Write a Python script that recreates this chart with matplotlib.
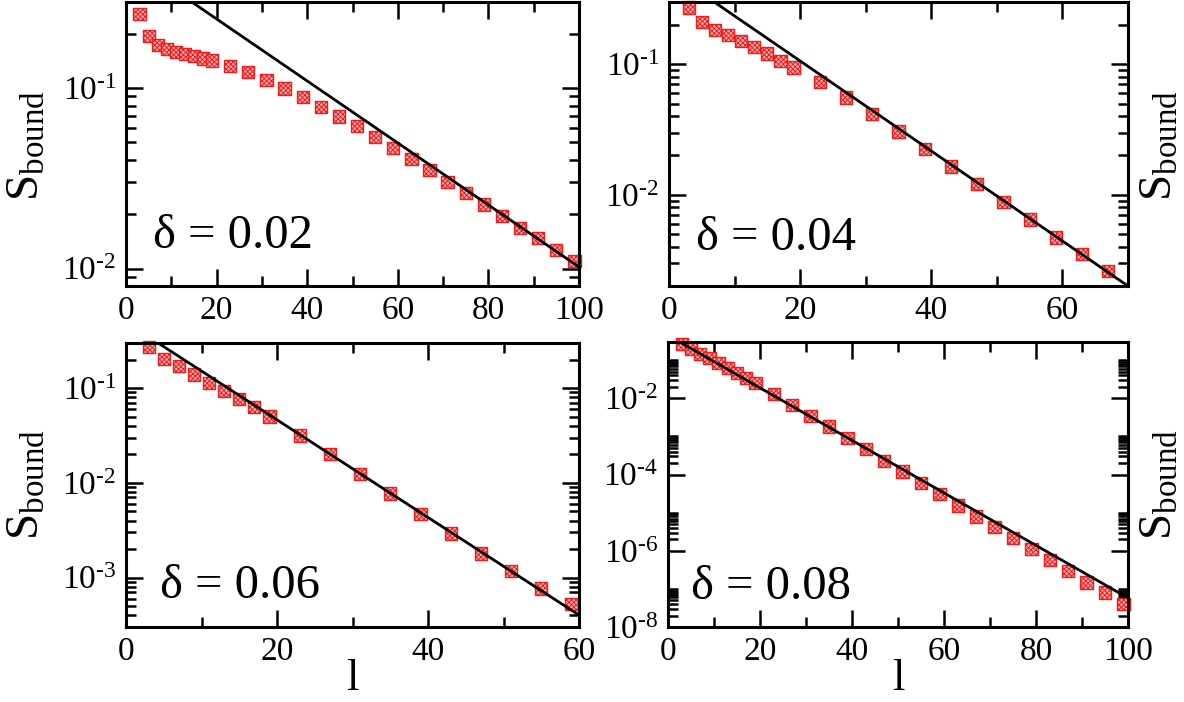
# -*- coding: UTF-8 -*-
# S_bound vs l for four values of delta, log scale, with exponential fit lines
import numpy as np
import matplotlib
matplotlib.use('Agg')
import matplotlib.pyplot as plt
from matplotlib.ticker import MultipleLocator, LogLocator, FixedLocator, FuncFormatter, NullFormatter

# data
l_02 = [3, 5, 7, 9, 11, 13, 15, 17, 19, 23, 27, 31, 35, 39, 43, 47, 51, 55, 59,
        63, 67, 71, 75, 79, 83, 87, 91, 95, 99]
s_02 = [0.258, 0.195, 0.173, 0.164, 0.159, 0.154, 0.150, 0.146, 0.142, 0.133,
        0.123, 0.111, 0.0996, 0.0892, 0.0789, 0.0697, 0.0614, 0.0538, 0.0464,
        0.0405, 0.0351, 0.0301, 0.0262, 0.0226, 0.0195, 0.0168, 0.0147, 0.0127, 0.0110]

l_04 = [3, 5, 7, 9, 11, 13, 15, 17, 19, 23, 27, 31, 35, 39, 43, 47, 51, 55, 59, 63, 67]
s_04 = [0.272, 0.211, 0.183, 0.167, 0.150, 0.135, 0.121, 0.106, 0.0943, 0.0732,
        0.0556, 0.0414, 0.0305, 0.0223, 0.0165, 0.0121, 0.00883, 0.00647, 0.00471,
        0.00351, 0.00262]

l_06 = [3, 5, 7, 9, 11, 13, 15, 17, 19, 23, 27, 31, 35, 39, 43, 47, 51, 55, 59]
s_06 = [0.270, 0.204, 0.171, 0.139, 0.114, 0.093, 0.0766, 0.0631, 0.0503, 0.0317,
        0.0200, 0.0123, 0.00769, 0.00466, 0.00291, 0.00179, 0.00117, 0.000766, 0.000524]

l_08 = [3, 5, 7, 9, 11, 13, 15, 17, 19, 23, 27, 31, 35, 39, 43, 47, 51, 55, 59,
        63, 67, 71, 75, 79, 83, 87, 91, 95, 99]
s_08 = [0.265, 0.204, 0.145, 0.112, 0.0826, 0.0611, 0.0452, 0.0334, 0.0247, 0.0130,
        0.00668, 0.00344, 0.00181, 0.000895, 0.000461, 0.000228, 0.000120, 5.93e-5,
        3.05e-5, 1.54e-5, 7.94e-6, 4.17e-6, 2.15e-6, 1.11e-6, 5.81e-7, 2.99e-7,
        1.48e-7, 8.09e-8, 4.08e-8]

# fit lines (end points)
fit_x_02, fit_y_02 = [0, 100], [0.533, 0.0102]
fit_x_04, fit_y_04 = [0, 70], [0.519, 0.0020]
fit_x_06, fit_y_06 = [0, 60], [0.497, 0.000401]
fit_x_08, fit_y_08 = [0, 100], [0.449, 5.78e-8]

deltas = ['0.02', '0.04', '0.06', '0.08']

plt.rcParams['font.family'] = ['Liberation Serif', 'DejaVu Serif']
plt.rcParams['mathtext.fontset'] = 'custom'
plt.rcParams['mathtext.rm'] = 'Liberation Serif'
plt.rcParams['mathtext.it'] = 'Liberation Serif:italic'
plt.rcParams['hatch.linewidth'] = 0.7


def sci(v, pos):
    return r'$\mathrm{10^{\text{-}%d}}$' % round(-np.log10(v))


W, H = 1184, 702
fig = plt.figure(figsize=(W / 100, H / 100), dpi=100)

# axes boxes in pixels: left, top, right, bottom
boxes = [(126, 2, 579, 286), (669, 2, 1128, 286),
         (126, 343, 579, 627), (668, 342, 1128, 627)]
ls = [l_02, l_04, l_06, l_08]
ss = [s_02, s_04, s_06, s_08]
fxs = [fit_x_02, fit_x_04, fit_x_06, fit_x_08]
fys = [fit_y_02, fit_y_04, fit_y_06, fit_y_08]
xmax = [100, 70, 60, 100]
ylims = [(0.008, 0.3), (0.002, 0.3), (3e-4, 0.3), (1e-8, 0.3)]
txt_pos = [(0.06, 0.134), (0.059, 0.127), (0.075, 0.102), (0.05, 0.098)]

for i in range(4):
    x0, y0, x1, y1 = boxes[i]
    ax = fig.add_axes([x0 / W, 1 - y1 / H, (x1 - x0) / W, (y1 - y0) / H])
    ax.scatter(ls[i], ss[i], marker='s', s=78, facecolor='#ffb0b0',
               edgecolor='#ee1c1c', hatch='xxxxxxx', linewidth=1.0,
               zorder=2, clip_on=False)
    ax.plot(fxs[i], fys[i], color='black', lw=2, zorder=3)
    ax.set_yscale('log')
    ax.set_xlim(0, xmax[i])
    ax.set_ylim(*ylims[i])
    ax.xaxis.set_major_locator(MultipleLocator(20))
    ax.xaxis.set_minor_locator(MultipleLocator(10))
    if i == 3:
        ax.yaxis.set_major_locator(FixedLocator([1e-8, 1e-6, 1e-4, 1e-2]))
        ax.yaxis.set_minor_locator(FixedLocator(
            [k * 10.0 ** m for m in (-8, -6, -4, -2) for k in range(2, 11)]))
    else:
        ax.yaxis.set_major_locator(LogLocator(base=10, numticks=20))
        ax.yaxis.set_minor_locator(LogLocator(base=10, subs=np.arange(2, 10), numticks=20))
    ax.yaxis.set_major_formatter(FuncFormatter(sci))
    ax.yaxis.set_minor_formatter(NullFormatter())
    ax.tick_params(which='both', direction='in', top=True, right=True,
                   width=1.8, labelsize=24, pad=7)
    ax.tick_params(which='major', length=12)
    ax.tick_params(which='minor', length=7)
    for sp in ax.spines.values():
        sp.set_linewidth(2.2)
        sp.set_zorder(5)
    ax.text(txt_pos[i][0], txt_pos[i][1], u'δ = ' + deltas[i], fontsize=35,
            transform=ax.transAxes, va='baseline', ha='left')
    if i >= 2:
        ax.set_xlabel('l', fontsize=32, labelpad=-6)

# S_bound labels
lab = r'$\mathrm{S_{bound}}$'
fig.text(27 / W, 1 - 146 / H, lab, fontsize=34, rotation=90, ha='center', va='center')
fig.text(27 / W, 1 - 485 / H, lab, fontsize=34, rotation=90, ha='center', va='center')
fig.text(1160 / W, 1 - 146 / H, lab, fontsize=34, rotation=90, ha='center', va='center')
fig.text(1160 / W, 1 - 485 / H, lab, fontsize=34, rotation=90, ha='center', va='center')

plt.savefig('out.png', dpi=100)
